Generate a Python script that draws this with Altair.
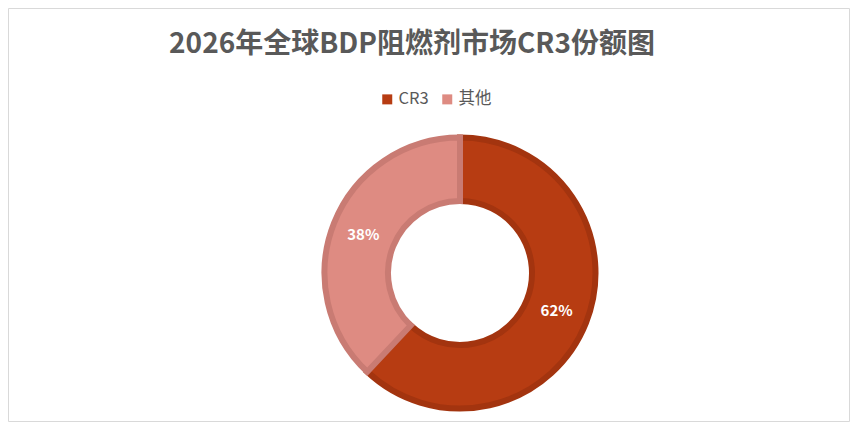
import altair as alt
import pandas as pd

categories = ["CR3", "其他"]
shares = [62, 38]
labels = ["62%", "38%"]
order = [0, 1]

fills = ["#B73C12", "#DE8B82"]
strokes = ["#A3340F", "#C97B73"]

df = pd.DataFrame({"cat": categories, "share": shares, "label": labels, "ord": order})

W, H = 842, 414
CX, CY = 452, 265

base = alt.Chart(df).encode(
    theta=alt.Theta("share:Q", stack=True),
    order=alt.Order("ord:Q"),
)

arcs = base.mark_arc(outerRadius=135.5, innerRadius=72, strokeWidth=6).encode(
    x=alt.value(CX), y=alt.value(CY),
    color=alt.Color("cat:N", scale=alt.Scale(domain=categories, range=fills),
                    sort=categories,
                    legend=alt.Legend(title=None, orient="none", direction="horizontal",
                                      legendX=371, legendY=83, symbolType="square",
                                      symbolSize=100, symbolStrokeWidth=0,
                                      labelFontSize=16.5, labelColor="#595959",
                                      labelFont="Noto Sans CJK SC", columnPadding=10,
                                      symbolOffset=0, padding=0, labelOffset=3)),
    stroke=alt.Stroke("cat:N", scale=alt.Scale(domain=categories, range=strokes), legend=None),
)

text = base.mark_text(radius=104, font="Noto Sans CJK SC", fontWeight="bold",
                      fontSize=15, color="white").encode(
    x=alt.value(CX), y=alt.value(CY),
    text="label:N",
)

title = alt.Chart(pd.DataFrame({"t": ["2026年全球BDP阻燃剂市场CR3份额图"]})).mark_text(
    font="Noto Sans CJK SC", fontWeight="bold", fontSize=28, color="#595959",
    align="center", baseline="middle"
).encode(x=alt.value(404), y=alt.value(37), text="t:N")

frame = alt.Chart(pd.DataFrame({"k": [0]})).mark_rect(
    fill=None, stroke="#D9D9D9", strokeWidth=1
).encode(x=alt.value(0.5), x2=alt.value(W - 0.5), y=alt.value(0.5), y2=alt.value(H - 0.5))

chart = alt.layer(frame, arcs, text, title).properties(
    width=W, height=H,
    autosize=alt.AutoSizeParams(type="fit", contains="padding"),
    padding=0,
    background="white",
).configure_view(stroke=None)

chart.save("out.html", embed_options={"renderer": "svg", "actions": False})
